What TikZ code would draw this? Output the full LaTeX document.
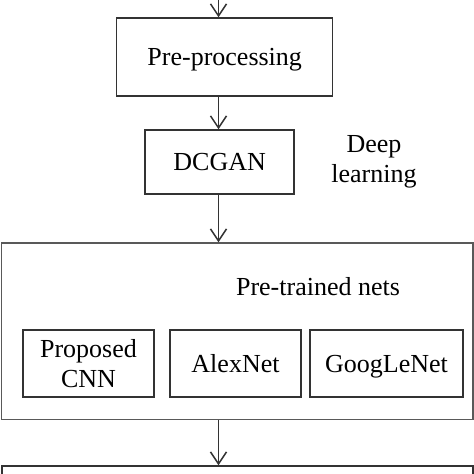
\documentclass[tikz,border=0pt]{standalone}
\usepackage{fontspec}
\setmainfont{Liberation Serif}
\usetikzlibrary{arrows.meta,positioning}

\begin{document}
\begin{tikzpicture}[x=1pt,y=1pt,line width=1.5pt,
   >={Straight Barb[length=12pt,width=16pt]},
   block/.style={draw=black!80,rectangle,inner sep=0pt,align=center,
      font=\fontsize{26}{30}\selectfont},
   oneline/.style={block,text height=17pt,text depth=0pt},
   frame/.style={draw=black!65,rectangle,inner sep=0pt},
   caption/.style={inner sep=0pt,align=center,font=\fontsize{26}{30}\selectfont}]
   \useasboundingbox (0,0) rectangle (474,-474);
   \coordinate (in) at (218.5,5);
   \node[oneline] (pre) [minimum width=216pt,minimum height=78pt] at (224.7,-57) {Pre-processing};
   \node[oneline] (dcgan) [minimum width=149pt,minimum height=64pt] at (219.7,-162) {DCGAN};
   \node[caption] (deep) at (374,-162) {Deep\\learning};
   \node[frame] (nets) [minimum width=471.5pt,minimum height=176.5pt] at (237.25,-331.25) {};
   \node[caption] (pretrained) at (318,-287) {Pre-trained nets};
   \node[block] (cnn) [minimum width=131pt,minimum height=67pt] at (88.5,-363.5) {Proposed\\CNN};
   \node[oneline] (alex) [minimum width=131pt,minimum height=67pt] at (235.5,-363.5) {AlexNet};
   \node[oneline] (goog) [minimum width=153pt,minimum height=67pt] at (386.5,-363.5) {GoogLeNet};
   \node[block] (next) [minimum width=471pt,minimum height=60pt] at (237.5,-496) {};
   \draw[->,black!80] (in) -- (in |- pre.north);
   \draw[->,black!80] (pre.south -| in) -- (dcgan.north -| in);
   \draw[->,black!80] (dcgan.south -| in) -- (nets.north -| in);
   \draw[->,black!80] (nets.south -| in) -- (next.north -| in);
\end{tikzpicture}
\end{document}
